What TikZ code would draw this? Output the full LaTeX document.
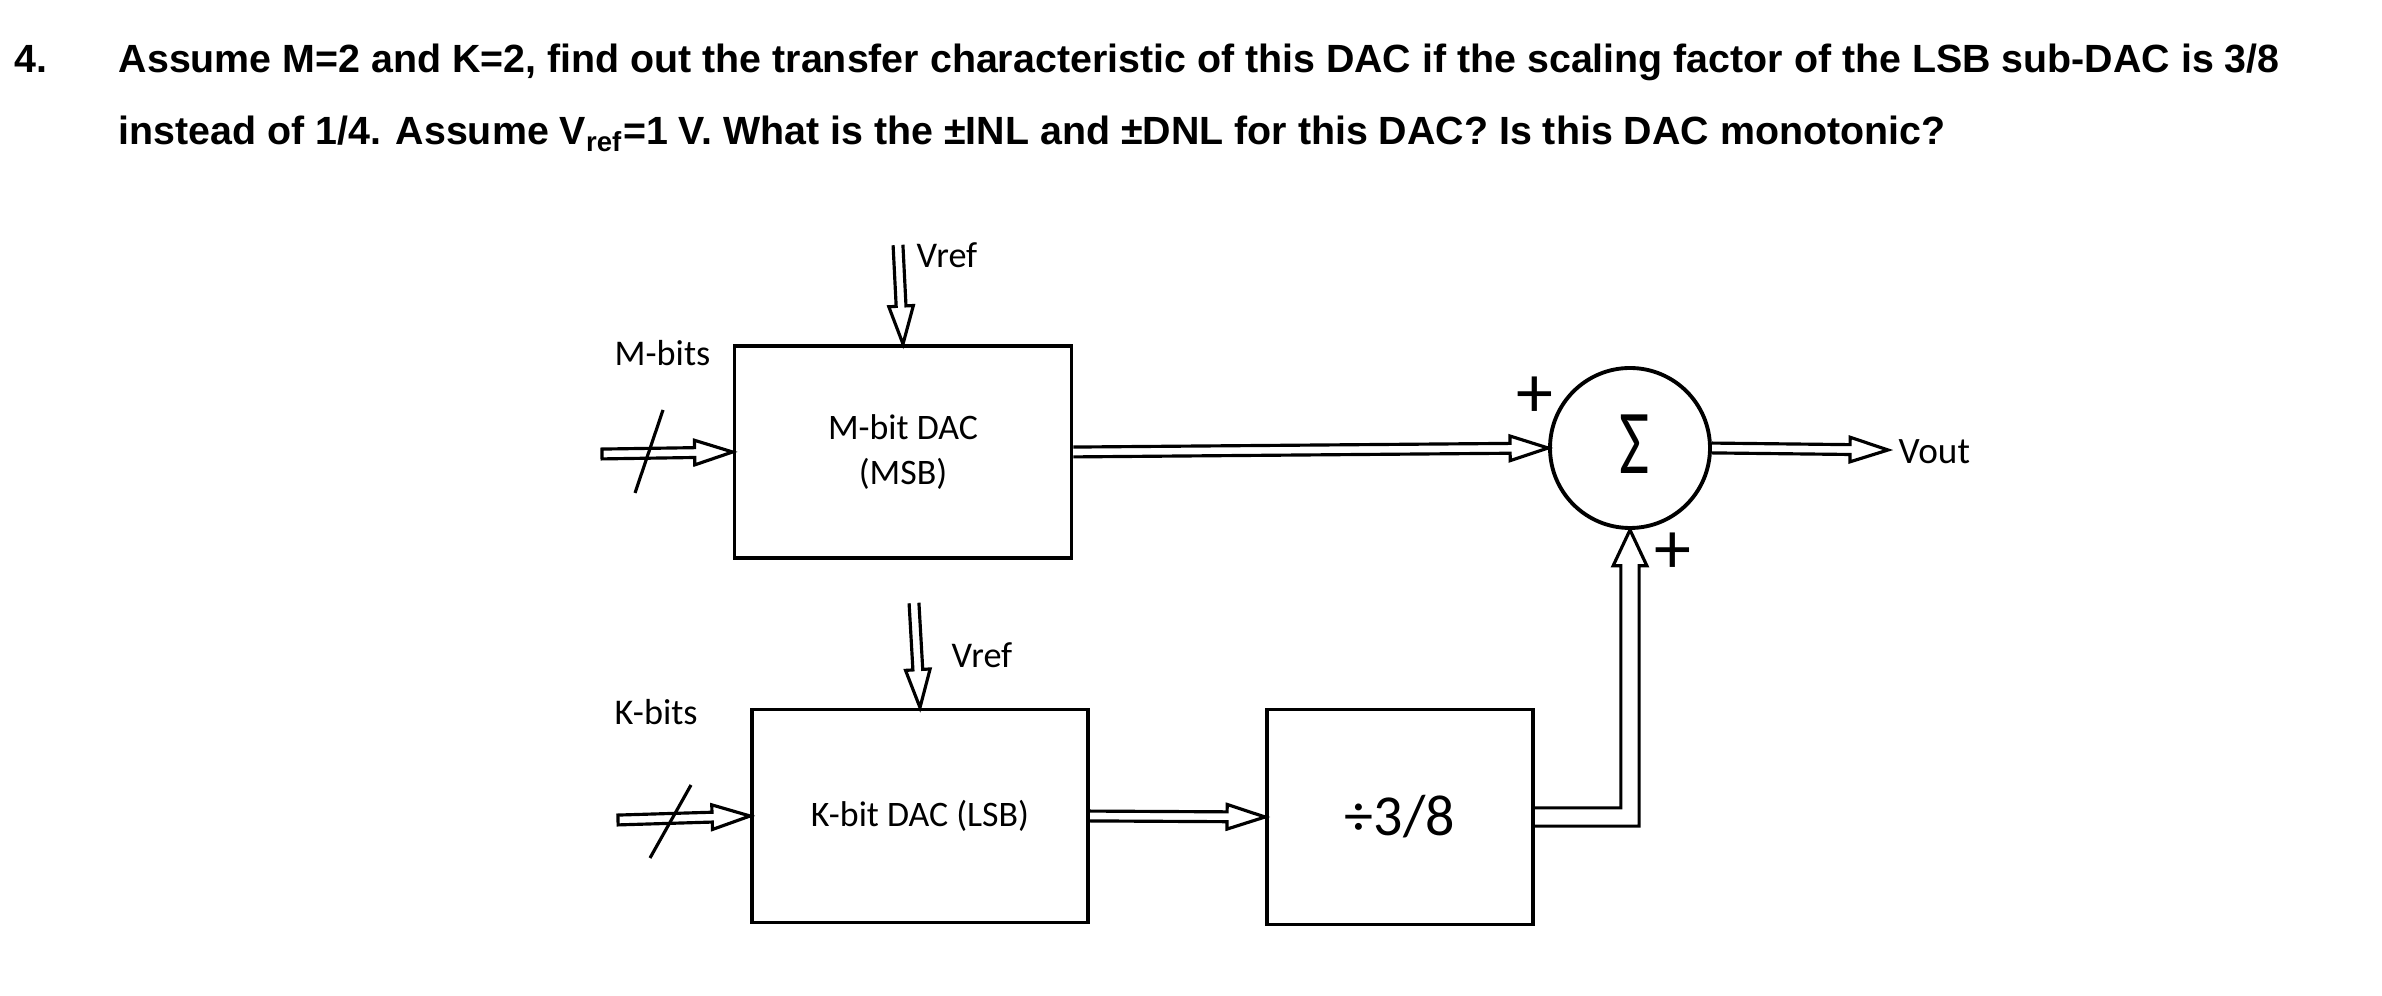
\documentclass[tikz,border=0pt]{standalone}
\usepackage{fontspec}
\usepackage{tikz}
\usetikzlibrary{positioning,calc}
\newfontfamily\qfont{Liberation Sans}
\newfontfamily\lblfont{Carlito}

% closing the tail of a hollow arrow is optional
\newcommand\hollowclose{}
\tikzset{
  closed tail/.code={\def\hollowclose{-- cycle}},
  hollow/.style={draw, line width=0.9pt, to path={
      let \p1=(\tikztostart), \p2=(\tikztotarget),
          \n1={atan2(\y2-\y1,\x2-\x1)}, \n2={veclen(\x2-\x1,\y2-\y1)}
      in [shift={(\p1)}, rotate=\n1]
      (0pt,1.4pt) -- ({\n2-10.8pt},1.4pt) -- ({\n2-10.8pt},3.5pt) -- ({\n2*1pt},0pt)
      -- ({\n2-10.8pt},-3.5pt) -- ({\n2-10.8pt},-1.4pt) -- (0pt,-1.4pt) \hollowclose}}
}

\begin{document}
\begin{tikzpicture}[
    x=0.1mm, y=-0.1mm,
    question/.style={anchor=base west, inner sep=0pt, font=\qfont\bfseries\fontsize{11.2}{13}\selectfont},
    block/.style={draw, line width=1.1pt, inner sep=0pt, align=center, font=\lblfont\fontsize{10.2}{12.8}\selectfont},
    lbl/.style={inner sep=0pt, font=\lblfont\fontsize{10.3}{12.8}\selectfont},
    sign/.style={inner sep=0pt, font=\lblfont\fontsize{21}{21}\selectfont},
    slash/.style={line width=0.9pt}
]
    \useasboundingbox (0,0) rectangle (2382,996);

    % question
    \node[question] (qnum) at (14,73) {4.};
    \node[question] (qline1) at (118,73)
        {Assume M=2 and K=2, find out the transfer characteristic of this DAC if the scaling factor of the LSB sub-DAC is 3/8};
    \node[question] (qline2) at (118,145)
        {instead of 1/4. Assume V\textsubscript{ref}=1 V. What is the ±INL and ±DNL for this DAC? Is this DAC monotonic?};

    % blocks
    \node[block, minimum width=33.7mm, minimum height=21.2mm] (msb) at (903,452) {M-bit DAC\\(MSB)};
    \node[block, minimum width=33.6mm, minimum height=21.3mm] (lsb) at (920,816) {K-bit DAC (LSB)};
    \node[block, minimum width=26.6mm, minimum height=21.5mm,
          font=\lblfont\fontsize{16.5}{16.5}\selectfont] (div) at (1400,817) {÷3/8};
    \node[draw, circle, line width=1.1pt, minimum size=16mm, inner sep=0pt] (sum) at (1630,448) {};
    \node[inner sep=0pt, font=\lblfont\fontsize{26}{26}\selectfont] (sigma) at (1635,444) {\scalebox{0.72}[1]{Σ}};

    % free ends
    \coordinate (vm) at (898,245);
    \coordinate (vk) at (914,603);
    \coordinate (mi) at (602,454);
    \coordinate (ki) at (618,820);
    \coordinate (vo) at (1888,450);

    % labels
    \node[lbl, anchor=west] (vmtxt) at (916,255) {Vref};
    \node[lbl, anchor=west] (vktxt) at (951,655) {Vref};
    \node[lbl, anchor=west] (mbits) at (614,353) {M-bits};
    \node[lbl, anchor=west] (kbits) at (614,712) {K-bits};
    \node[lbl, anchor=west, font=\lblfont\fontsize{10.6}{12.8}\selectfont] (vout) at (1898,452) {Vout};
    \node[sign] (plus1) at (1535,397) {+};
    \node[sign] (plus2) at (1673,553) {+};

    % connectors
    \draw[hollow] (vm) to (msb.north);
    \draw[hollow] (vk) to (lsb.north);
    \draw[hollow, closed tail] (mi) to (msb.west);
    \draw[hollow, closed tail] (ki) to (lsb.west);
    \draw[hollow] (msb.east) to (sum.west);
    \draw[hollow] (lsb.east) to (div.west);
    \draw[hollow] (sum.east) to (vo);
    \draw[line width=0.9pt] let \p1=(div.east), \p2=(sum.south) in
        (\x1,\y1+2.6pt) -- (\x2-2.6pt,\y1+2.6pt) -- (\x2-2.6pt,\y2-10.2pt) -- (\x2-4.8pt,\y2-10.2pt) -- (\p2)
        -- (\x2+4.8pt,\y2-10.2pt) -- (\x2+2.6pt,\y2-10.2pt) -- (\x2+2.6pt,\y1-2.6pt) -- (\x1,\y1-2.6pt);

    % bus slashes
    \draw[slash] (663,410) -- (635,493);
    \draw[slash] (691,785) -- (650,858);
\end{tikzpicture}
\end{document}
